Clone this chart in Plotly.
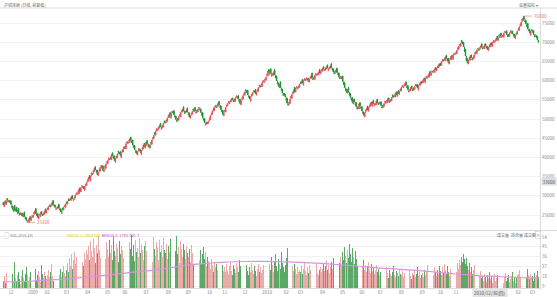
import numpy as np
import pandas as pd
import plotly.graph_objects as go


def nums(s):
    return [float(t) for t in s.split()]


# ---- daily closes (in hundreds of yuan) ----
close_2008 = nums("""
276 282 279 287 290 284 288 283
278 270 264 268 262 266 259 262 255 250 256 251 247 252 246 240 236 232 237 241 238 244 248
""")
close_2009 = nums("""
250 256 261 254 249 244 248 252 257 253 249 255 260 257 263
268 272 276 271 279 283 278 274 270 265 269 273 268 263 258 262 266 271 275 279
282 286 291 288 294 298 293 289 296 302 307 304 311 317 313 320 326 322 318 324 330 336
342 348 345 352 360 357 366 372 368 362 355 361 368 374 379 372 366 371 377 383 388
392 398 394 401 408 404 398 392 397 403 409 414 410 405 412 418 422 423
428 436 441 437 444 449 445 439 432 426 420 414 410 416 423 419 413 418 425 432 428 435
440 436 430 426 432 438 445 452 458 463 469 475 472 479 484 480 476 483 489 494 490 497 502
507 512 509 515 520 516 511 505 499 494 500 506 511 517 522 526 521 515 520 524 518
512 505 509 514 519 523 527 522 517 521 526 530 524 517 510 503 497 490 486 492 488 495
502 509 515 521 526 531 535 530 536 541 537 530 524 518 512 517
523 530 536 541 546 543 549 553 550 545 551 556 560 557 552 546 540 548 555 561 566
571 575 569 563 557 552 558 564 569 574 570 566 571 577 582 587 584 590 595 600 598 604 609
""")
close_2010 = nums("""
617 625 622 628 620 612 618 623 615 607 600 592 585 590 582 575 568 561 566 558
549 541 536 544 552 559 564 570 576 572 579 584 580 586 591
595 599 594 600 605 601 607 603 598 604 609 613 608 603 609 614 618 614 619 623 620 625 629
633 630 627 632 636 633 630 635 638 634 629 623 618 624 628 622 616 610 605 611 606
598 590 582 575 569 576 570 562 556 549 543 550 545 538 532 526 533 540 535 528
521 515 510 516 523 529 524 530 536 542 538 545 540 535 541 547 543 538 544
540 535 529 534 540 546 542 548 553 549 544 550 556 561 557 563 568 564 570 566 572 577
582 587 583 589 593 588 582 576 572 578 583 579 574 580 586 590 585 581 587 592 596 593
598 603 600 606 611 607 613 618 615 620 625 622 627 631 628 633 637 641 638
644 650 655 651 657 662 658 652 647 653 659 664 661 667 671 668
673 679 685 690 694 698 702 696 688 676 664 652 646 653 659 665 660 654 661 667 672 676
680 684 679 686 691 688 683 689 694 690 685 681 687 692 697 693 699 704 700 706 710 707 712
""")
close_2011 = nums("""
716 721 718 713 719 724 728 725 720 714 719 725 730 727 722 717 712 718 723 729
734 740 746 752 758 763 760 754 748 741 735 730 724 729 733
726 720 714 719 712 706 700
""")
first_open = 280.0

# ---- opening gap vs. previous close (hundreds) ----
gap_2008 = nums("""
3 -4 5 -2 6 -5 2 -3
4 -6 3 -5 7 -2 4 -6 5 -3 2 -7 4 -2 6 -4 3 -5 2 -6 5 -3 4
""")
gap_2009 = nums("""
-5 4 -3 6 -2 5 -4 3 -6 2 -3 5 -4 6 -2
4 -5 3 -2 6 -4 5 -3 2 -6 4 -2 5 -5 3 -4 6 -3 2 -5
5 -4 6 -3 4 -6 3 -5 7 -2 5 -4 3 -6 4 -3 6 -5 2 -4 5 -3
6 -4 5 -7 3 -5 6 -3 4 -6 5 -2 7 -4 3 -5 6 -3 4 -6 5
-4 6 -3 5 -7 4 -2 6 -5 3 -4 7 -3 5 -6 2 -4 6
5 -6 3 -4 7 -5 4 -3 6 -2 5 -7 3 -4 6 -5 2 -6 4 -3 5 -4
-5 4 -6 3 -2 7 -4 5 -3 6 -5 2 -6 4 -3 5 -7 3 -4 6 -2 5 -3
6 -3 5 -7 4 -2 6 -5 3 -4 7 -3 5 -6 2 -4 6 -5 3 -2 5
-6 4 -3 5 -2 6 -4 3 -7 5 -3 4 -6 2 -5 7 -3 4 -6 5 -2 3
7 -4 5 -3 6 -5 2 -4 6 -3 5 -7 4 -2 5 -4
3 -5 6 -2 4 -6 5 -3 2 -4 7 -5 3 -6 4 -2 5 -3 6 -4 2
-4 5 -3 6 -5 2 -6 4 -3 5 -2 7 -4 3 -5 6 -3 4 -6 2 -5 4 -3
""")
gap_2010 = nums("""
8 -5 4 -6 3 -7 5 -4 6 -3 5 -6 2 -4 7 -5 3 -2 6 -4
-7 5 -3 6 -4 2 -5 4 -3 7 -2 5 -6 3 -4
5 -3 4 -6 2 -4 6 -5 3 -2 5 -4 7 -3 4 -6 2 -5 3 -4 6 -2 4
-5 3 -4 6 -2 5 -7 4 -3 6 -5 2 -4 7 -3 5 -6 4 -2 3 -5
6 -4 5 -7 3 -2 6 -5 4 -3 7 -4 2 -6 5 -3 4 -7 3 -5
4 -6 3 -5 7 -2 5 -4 6 -3 2 -5 4 -6 3 -4 5 -2 6
-3 5 -4 6 -2 4 -5 3 -6 2 -4 5 -3 7 -2 4 -6 3 -5 4 -2 6
-4 3 -5 6 -2 4 -3 5 -6 2 -4 3 -5 7 -3 4 -2 5 -6 3 -4 2
5 -3 4 -6 2 -5 3 -4 6 -2 5 -3 4 -6 3 -2 5 -4 3
7 -4 5 -3 6 -5 4 -2 6 -4 3 -5 2 -6 4 -3
5 -3 6 -4 2 -5 7 -3 4 -8 6 -4 5 -3 7 -6 2 -4 5 -3 6 -2
-5 4 -3 6 -2 5 -4 3 -6 2 -5 4 -3 6 -4 2 -5 3 -6 4 -2 5 -3
""")
gap_2011 = nums("""
6 -4 3 -5 2 -6 4 -3 5 -2 6 -4 3 -7 2 -5 4 -3 6 -2
5 -3 6 -4 7 -2 5 -6 3 -4 8 -5 3 -6 4
-6 4 -3 5 -7 3 -4
""")

# ---- daily volume (axis units) ----
vol_2008 = nums("""
14 18 12 21 16 13 19 15
17 12 20 14 31 16 13 19 22 15 11 18 24 16 13 20 26 19 14 17 22 15 12
""")
vol_2009 = nums("""
16 21 18 25 14 19 23 17 13 28 20 16 22 18 15
19 24 17 22 29 18 14 21 26 20 16 23 30 19 25 17 22 27 21 18
24 30 22 35 27 38 25 33 40 29 36 26 41 32 28 37 44 31 27 39 34 42
38 46 33 50 41 36 52 44 30 47 39 55 42 35 48 37 45 51 40 34 49
43 36 51 39 47 33 54 41 37 48 44 31 50 38 46 42 35 53
45 38 52 41 34 49 43 56 37 47 32 51 40 44 36 53 39 48 42 33 46 50
41 35 48 44 52 38 46 31 54 43 37 49 45 33 51 40 47 36 53 42 39 48 34
46 40 52 37 44 49 33 47 41 55 38 45 30 50 43 36 48 42 34 46 39
36 43 31 47 39 28 44 35 41 30 46 37 33 42 29 38 45 34 40 27 36 32
30 25 34 28 22 31 26 29 24 33 27 21 30 25 28 23
26 22 29 24 20 27 31 23 19 28 25 21 30 26 22 33 27 24 29 23 20
25 21 28 23 19 26 22 30 24 20 27 23 18 25 29 22 26 21 24 28 20 23 19
""")
vol_2010 = nums("""
26 33 41 29 24 36 28 22 31 38 27 23 34 29 25 40 30 26 22 28
35 44 30 26 33 24 21 27 23 29 25 20 26 22 24
22 27 20 25 30 23 19 26 21 28 24 18 25 22 27 20 23 29 21 19 24 26 22
25 30 23 27 33 24 28 21 26 31 25 35 29 24 38 27 32 26 30 36 28
40 33 45 37 30 42 35 48 38 31 44 36 29 41 34 27 37 32 28 35
30 26 33 24 28 22 27 31 25 21 29 23 26 20 24 28 22 25 19
22 18 25 20 17 23 19 26 21 16 24 20 18 22 27 19 17 23 21 18 25 20
19 23 17 21 25 18 22 16 20 24 18 15 21 19 23 17 20 26 18 22 16 19
21 17 24 19 22 28 20 18 25 21 17 23 19 26 22 18 24 20 27
23 19 26 21 29 24 20 27 22 18 25 21 28 23 19 24
26 22 30 25 33 28 36 31 38 34 29 35 27 24 30 22 26 20 24 28 21 18
17 21 15 19 23 16 18 14 20 17 13 19 16 22 15 18 12 17 20 14 16 19 13
""")
vol_2011 = nums("""
15 18 13 20 16 12 17 21 14 16 19 13 15 18 22 14 17 12 16 19
20 24 17 22 27 19 23 18 21 16 25 19 15 20 17
18 14 21 16 19 23 17
""")

# ---- long volume average line (sampled monthly) ----
ma_dates = ["2008-11-19", "2008-12-01", "2009-01-05", "2009-02-02", "2009-03-02", "2009-04-01",
            "2009-05-04", "2009-06-01", "2009-07-01", "2009-08-03", "2009-09-01", "2009-10-09",
            "2009-11-02", "2009-12-01", "2010-01-04", "2010-02-01", "2010-03-01", "2010-04-01",
            "2010-05-04", "2010-06-01", "2010-07-01", "2010-08-02", "2010-09-01", "2010-10-08",
            "2010-11-01", "2010-12-01", "2011-01-04", "2011-02-01", "2011-03-01", "2011-03-09"]
ma_values = [12.7, 12.9, 13.6, 14.5, 15.4, 17.3, 19.1, 20.9, 22.8, 25.5, 28.3, 30.1,
             31.0, 31.5, 31.6, 31.1, 30.6, 29.7, 28.3, 26.9, 25.5, 24.2, 22.8, 21.4,
             20.0, 18.6, 17.7, 16.8, 16.4, 16.2]

holidays = ["2009-01-01", "2009-01-02", "2009-01-26", "2009-01-27", "2009-01-28", "2009-01-29",
            "2009-01-30", "2009-04-06", "2009-05-01", "2009-05-28", "2009-05-29", "2009-10-01",
            "2009-10-02", "2009-10-05", "2009-10-06", "2009-10-07", "2009-10-08",
            "2010-01-01", "2010-02-15", "2010-02-16", "2010-02-17", "2010-02-18", "2010-02-19",
            "2010-04-05", "2010-05-03", "2010-06-14", "2010-06-15", "2010-06-16", "2010-09-22",
            "2010-09-23", "2010-09-24", "2010-10-01", "2010-10-04", "2010-10-05", "2010-10-06",
            "2010-10-07", "2011-01-03", "2011-02-02", "2011-02-03", "2011-02-04", "2011-02-07",
            "2011-02-08"]

price_ticks = [25000, 30000, 35000, 40000, 45000, 50000, 55000, 60000, 65000, 70000, 75000]
vol_ticks = [9, 18, 27, 36, 45, 54]
hidden_months = ["2010-12", "2011-01"]   # covered by the cursor date label

# ---- build ----
hset = set(holidays)
days = [d for d in pd.bdate_range("2008-11-19", "2011-03-31") if d.strftime("%Y-%m-%d") not in hset]
closes = np.array(close_2008 + close_2009 + close_2010 + close_2011) * 100
gaps = np.array(gap_2008 + gap_2009 + gap_2010 + gap_2011) * 100
vols = np.array(vol_2008 + vol_2009 + vol_2010 + vol_2011)
n = min(len(closes), len(vols), len(days), len(gaps))
closes, vols, days, gaps = closes[:n], vols[:n], days[:n], gaps[:n]
prev_close = np.concatenate([[first_open * 100], closes[:-1]])
opens = prev_close + gaps
highs = np.maximum.reduce([opens, closes, prev_close])
lows = np.minimum.reduce([opens, closes, prev_close])
x = np.arange(n)
day_index = {d.strftime("%Y-%m-%d"): i for i, d in enumerate(days)}

tickvals, ticktext = [], []
for i in range(1, n):
    if days[i].month != days[i - 1].month and days[i].strftime("%Y-%m") not in hidden_months:
        tickvals.append(i)
        ticktext.append(str(days[i].year) if days[i].month == 1 else f"{days[i].month:02d}")

up = closes >= opens
UP_LINE, UP_FILL = "#e5505c", "#f3a3aa"
DN = "#1b922f"
bar_colors = ["rgba(228,128,128,0.66)" if u else "rgba(40,140,55,0.76)" for u in up]

FONT = "Noto Sans CJK SC, Noto Sans, sans-serif"
fig = go.Figure()
fig.add_trace(go.Candlestick(
    x=x, open=opens, high=highs, low=lows, close=closes,
    increasing=dict(line=dict(color=UP_LINE, width=1), fillcolor=UP_FILL),
    decreasing=dict(line=dict(color=DN, width=1), fillcolor=DN),
    whiskerwidth=0, showlegend=False, xaxis="x", yaxis="y", hoverinfo="skip"))
fig.add_trace(go.Bar(x=x, y=vols, marker=dict(color=bar_colors, line=dict(width=0)),
                     width=0.8, xaxis="x", yaxis="y2", showlegend=False, hoverinfo="skip"))
fig.add_trace(go.Scatter(x=[day_index[d] for d in ma_dates], y=ma_values, mode="lines",
                         line=dict(color="#e290e2", width=1.2, shape="spline"),
                         xaxis="x", yaxis="y2", showlegend=False, hoverinfo="skip"))

W, H = 557, 297
L, R, T, B = 0, 17, 8, 9
PW, PH = W - L - R, H - T - B


def px(v):
    return (v - L) / PW


def py(v):
    return (H - B - v) / PH


price_bottom = py(230)
vol_top = py(231)

fig.update_layout(
    width=W, height=H, margin=dict(l=L, r=R, t=T, b=B),
    paper_bgcolor="white", plot_bgcolor="white",
    font=dict(family=FONT, size=5, color="#999"),
    bargap=0,
    xaxis=dict(range=[-3.4, 559.7], anchor="y2", tickvals=tickvals, ticktext=ticktext,
               tickfont=dict(size=4.5, color="#888"), showgrid=False, zeroline=False,
               showline=True, linecolor="#dcdcdc", linewidth=1, ticks="",
               rangeslider=dict(visible=False), fixedrange=True),
    yaxis=dict(domain=[price_bottom, 1], range=[21094, 78906], side="right", anchor="x",
               tickvals=price_ticks, ticktext=[str(v) for v in price_ticks],
               tickfont=dict(size=4.5, color="#888"), gridcolor="#f1f1f1", gridwidth=1,
               zeroline=False, showline=True, linecolor="#dcdcdc", ticks=""),
    yaxis2=dict(domain=[0, vol_top], range=[7.16, 59.5], side="right", anchor="x",
                tickvals=vol_ticks, ticktext=[str(v) for v in vol_ticks],
                tickfont=dict(size=4.5, color="#888"), gridcolor="#f1f1f1", gridwidth=1,
                zeroline=False, showline=True, linecolor="#dcdcdc", ticks=""),
)

shapes = [
    dict(type="line", xref="paper", yref="paper", x0=0, x1=W / PW, y0=1, y1=1,
         line=dict(color="#dcdcdc", width=1)),
    dict(type="line", xref="paper", yref="paper", x0=0, x1=W / PW, y0=py(230.5), y1=py(230.5),
         line=dict(color="#d6d6d6", width=1)),
]
fig.update_layout(shapes=shapes)

ann = []


def text(xp, yp, s, color="#777", size=4.5, anchor="left", **kw):
    ann.append(dict(x=px(xp), y=py(yp), xref="paper", yref="paper", text=s, showarrow=False,
                    xanchor=anchor, yanchor="middle", font=dict(size=size, color=color, family=FONT), **kw))


text(2, 4.5, "沪铜连续 (日线, 前复权)", color="#666", size=4)
text(517, 4.5, "设置指标 ▾", color="#666", size=4)
text(2, 234.5, "▢", color="#999", size=5)
text(8, 234.5, "VOL,OI(5,10)", color="#777", size=4)
text(65, 234.5, "MAVOL1: 1864 Tot: 0", color="#e2d000", size=4)
text(100, 234.5, "MAVOL2: 1792 Tot: 7", color="#d040d0", size=4)
text(495, 234.5, "成交量", color="#666", size=4)
text(509, 234.5, "持仓量", color="#666", size=4)
text(522, 234.5, "成交额", color="#666", size=4)
text(535, 234.5, "×", color="#888", size=4, bordercolor="#ccc", borderwidth=0.5, borderpad=0.5)
text(490, 292.5, "2010/12/30(四)", color="#555", size=4.5, anchor="center",
     bgcolor="#e4e4e4", borderpad=1)
ann.append(dict(x=px(541), y=33600, xref="paper", yref="y", text="33600", showarrow=False,
                xanchor="left", yanchor="middle", bgcolor="#dedede", borderpad=0.5,
                font=dict(size=4.5, color="#555", family=FONT)))

imax, imin = int(np.argmax(highs)), int(np.argmin(lows))
for idx, val in ((imax, highs[imax]), (imin, lows[imin])):
    ann.append(dict(x=idx, y=val, xref="x", yref="y", text=f"{val:.0f}", showarrow=True,
                    arrowhead=0, arrowwidth=0.6, arrowcolor="#e8707a", ax=8, ay=0,
                    xanchor="left", yanchor="middle",
                    font=dict(size=4.5, color="#e8707a", family=FONT)))
fig.update_layout(annotations=ann)

fig.write_html("out.html")
